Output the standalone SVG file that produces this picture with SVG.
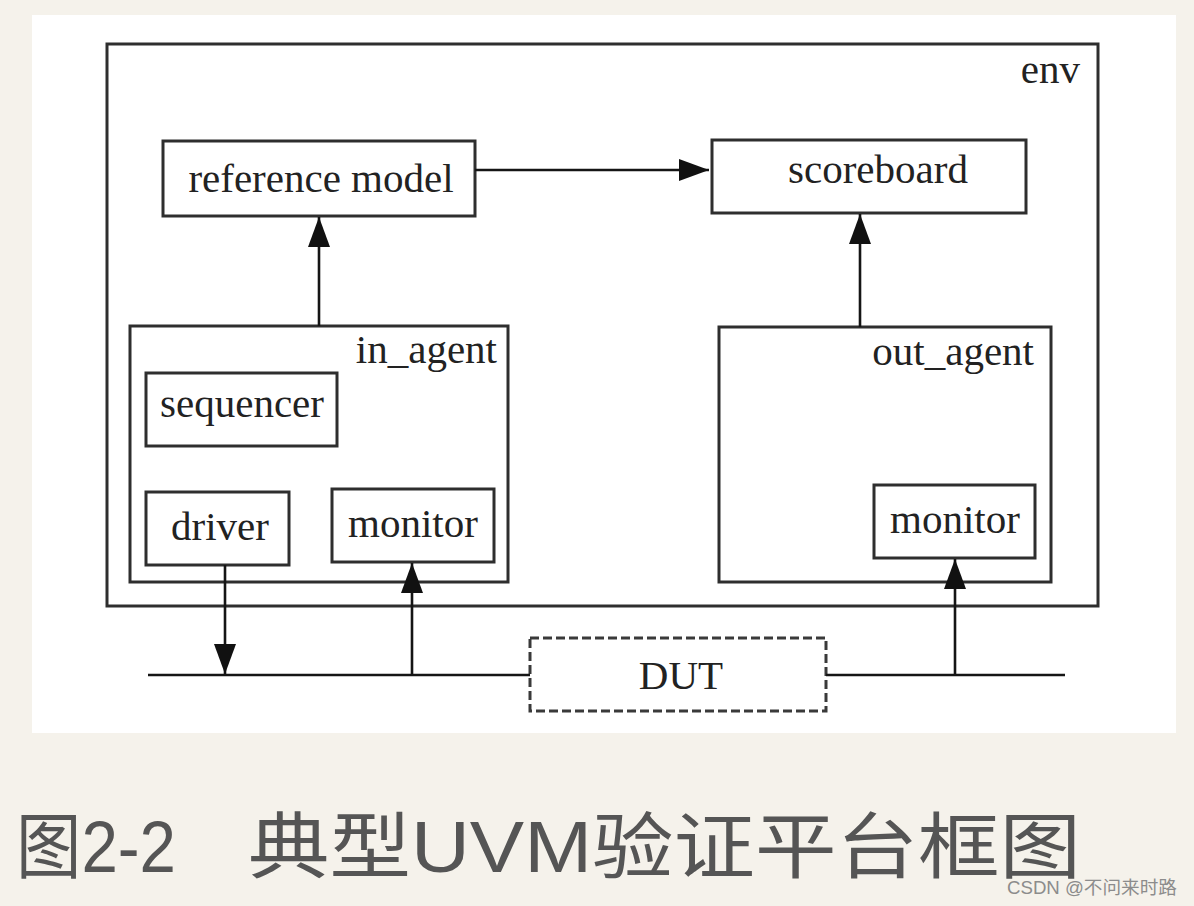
<svg xmlns="http://www.w3.org/2000/svg" width="1194" height="906" viewBox="0 0 1194 906">
  <style>
    .box { fill: #ffffff; stroke: #2e2e2e; stroke-width: 3; }
    .lbl { font-family: "Liberation Serif", "Times New Roman", serif; font-size: 41px; fill: #222222; }
    .mid { text-anchor: middle; }
    .end { text-anchor: end; }
    .wire { fill: none; stroke: #151515; stroke-width: 2.6; }
    .cap { font-family: "Liberation Sans", "Noto Sans CJK SC", sans-serif; font-size: 72px; fill: #555555; }
  </style>
  <defs>
    <marker id="arrow" viewBox="0 0 30 22" refX="30" refY="11" markerWidth="30" markerHeight="22" markerUnits="userSpaceOnUse" orient="auto">
      <path d="M0,0 L30,11 L0,22 Z" fill="#111111"/>
    </marker>
  </defs>

  <rect x="0" y="0" width="1194" height="906" fill="#f5f2eb"/>
  <rect x="32" y="15" width="1144" height="718" fill="#ffffff"/>

  <g id="env">
    <rect class="box" x="107" y="44" width="991" height="562"/>
    <text class="lbl end" x="1080" y="83">env</text>
  </g>

  <g id="reference_model">
    <rect class="box" x="163" y="141" width="312" height="75"/>
    <text class="lbl mid" x="321" y="192">reference model</text>
  </g>

  <g id="scoreboard">
    <rect class="box" x="712" y="140" width="314" height="73"/>
    <text class="lbl mid" x="878" y="183">scoreboard</text>
  </g>

  <g id="in_agent">
    <rect class="box" x="130" y="326" width="378" height="256"/>
    <text class="lbl end" x="497" y="363">in_agent</text>
  </g>

  <g id="sequencer">
    <rect class="box" x="146" y="373" width="191" height="73"/>
    <text class="lbl mid" x="242" y="417">sequencer</text>
  </g>

  <g id="driver">
    <rect class="box" x="146" y="492" width="143" height="73"/>
    <text class="lbl mid" x="220" y="540">driver</text>
  </g>

  <g id="in_monitor">
    <rect class="box" x="332" y="489" width="162" height="73"/>
    <text class="lbl mid" x="413" y="537">monitor</text>
  </g>

  <g id="out_agent">
    <rect class="box" x="719" y="327" width="332" height="255"/>
    <text class="lbl end" x="1034" y="365">out_agent</text>
  </g>

  <g id="out_monitor">
    <rect class="box" x="874" y="485" width="161" height="73"/>
    <text class="lbl mid" x="955" y="533">monitor</text>
  </g>

  <g id="DUT">
    <rect x="530" y="638" width="296" height="73" fill="#ffffff" stroke="#3a3a3a" stroke-width="3" stroke-dasharray="9 4"/>
    <text class="lbl mid" x="681" y="689">DUT</text>
  </g>

  <g id="connectors">
    <line class="wire" x1="475" y1="170" x2="709" y2="170" marker-end="url(#arrow)"/>
    <line class="wire" x1="319" y1="326" x2="319" y2="217" marker-end="url(#arrow)"/>
    <line class="wire" x1="860" y1="327" x2="860" y2="214" marker-end="url(#arrow)"/>
    <line class="wire" x1="148" y1="675" x2="530" y2="675"/>
    <line class="wire" x1="826" y1="675" x2="1065" y2="675"/>
    <line class="wire" x1="225" y1="565" x2="225" y2="674" marker-end="url(#arrow)"/>
    <line class="wire" x1="412" y1="675" x2="412" y2="563" marker-end="url(#arrow)"/>
    <line class="wire" x1="955" y1="675" x2="955" y2="559" marker-end="url(#arrow)"/>
  </g>

  <text class="cap" x="16" y="872" textLength="160" lengthAdjust="spacingAndGlyphs">图2-2</text>
  <text class="cap" x="248" y="872" textLength="833" lengthAdjust="spacingAndGlyphs">典型UVM验证平台框图</text>
  <text x="1007" y="894" font-family="Liberation Sans, Noto Sans CJK SC, sans-serif" font-size="18" fill="#8c8c8c" textLength="170" lengthAdjust="spacingAndGlyphs">CSDN @不问来时路</text>
</svg>
